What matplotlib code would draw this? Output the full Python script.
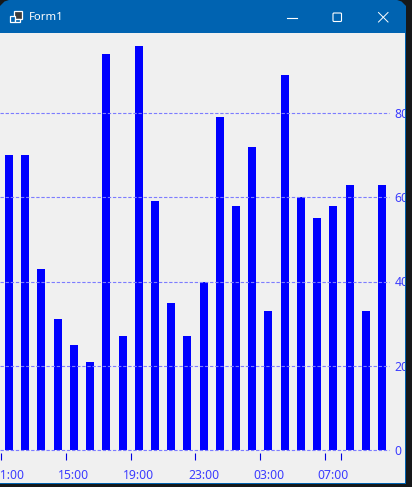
import matplotlib
matplotlib.use("Agg")
import numpy as np
import matplotlib.pyplot as plt
from matplotlib.patches import FancyBboxPatch, Rectangle

W, H = 412, 487

# one bar per hour, starting at 11:00
hours = ['%02d:00' % ((11 + i) % 24) for i in range(24)]
values = [70, 70, 43, 31, 25, 21, 94, 27, 96, 59, 35, 27,
          40, 79, 58, 72, 33, 89, 60, 55, 58, 63, 33, 63]
label_idx = [0, 4, 8, 12, 16, 20]
tick_idx = [0, 4, 8, 12, 16, 20, 21]
yticks = [0, 20, 40, 60, 80]

TITLE_BLUE = '#0063b1'
CLIENT = '#f0f0f0'
DARK = '#16181a'
GRID = '#7c7cff'
LABEL = '#3c3cff'

plt.rcParams['font.family'] = ['Noto Sans', 'DejaVu Sans']

fig = plt.figure(figsize=(W / 100, H / 100), dpi=100, facecolor=DARK)


def pixel_axes(zorder):
    a = fig.add_axes([0, 0, 1, 1], zorder=zorder)
    a.set_xlim(0, W)
    a.set_ylim(H, 0)
    a.axis('off')
    a.patch.set_alpha(0)
    return a


# window behind the chart
back = pixel_axes(0)
back.add_patch(FancyBboxPatch((7, 9), 392, 468, boxstyle='round,pad=0,rounding_size=7',
                              mutation_aspect=1, fc=TITLE_BLUE, ec=TITLE_BLUE, lw=14))
back.add_patch(Rectangle((0, 33), 405.5, 449.5, fc=CLIENT, ec='none'))
back.add_patch(Rectangle((0, 482.5), 405.5, 1, fc=TITLE_BLUE, ec='none'))

# window icon
back.add_patch(Rectangle((14.5, 11), 8, 8, fc='#3c3c3c', ec='white', lw=0.9))
back.add_patch(Rectangle((10, 16), 5.5, 5.5, fc=TITLE_BLUE, ec='white', lw=0.9))
back.add_patch(Rectangle((15.5, 19), 5, 3, fc=TITLE_BLUE, ec='white', lw=0.9))
back.text(29, 17.5, 'Form1', color='white', fontsize=8.2, va='center', ha='left')

# minimise, maximise, close
back.plot([287, 297], [17.5, 17.5], color='white', lw=0.8)
back.add_patch(FancyBboxPatch((333, 13), 8.5, 8.5, boxstyle='round,pad=0,rounding_size=1',
                              fc='none', ec='white', lw=0.8))
back.plot([378.5, 388], [12.5, 22], color='white', lw=0.7)
back.plot([378.5, 388], [22, 12.5], color='white', lw=0.7)

# chart area, placed so that 0 sits at y=450 and 80 at y=113
px_per_unit = (450 - 113) / 80
bar_step = (382 - 9) / 23
top_val = (450 - 33) / px_per_unit

ax = fig.add_axes([0, (H - 450) / H, 389 / W, (450 - 33) / H], zorder=1)
ax.patch.set_alpha(0)
x = np.arange(len(values))
ax.bar(x, values, width=8 / bar_step, color='#0000ff', zorder=2)
ax.set_xlim(-9 / bar_step, (389 - 9) / bar_step)
ax.set_ylim(0, top_val)

for s in ax.spines.values():
    s.set_visible(False)
ax.spines['bottom'].set_position(('outward', 2.5))

ax.set_xticks(x[label_idx])
ax.set_xticklabels([hours[i] for i in label_idx], color=LABEL, fontsize=8.8)
ax.set_xticks(x[tick_idx] - 0.5, minor=True)
ax.tick_params(axis='x', which='major', length=0, pad=11.5)
ax.tick_params(axis='x', which='minor', length=5, width=0.8, color='#0000e0')

ax.yaxis.tick_right()
ax.set_yticks(yticks)
ax.set_yticklabels([str(v) for v in yticks], color=LABEL, fontsize=8.8)
ax.tick_params(axis='y', length=0, pad=4)
ax.grid(axis='y', color=GRID, lw=0.8, linestyle=(0, (3, 1.6)), zorder=3)
ax.set_axisbelow(False)
for line in ax.get_ygridlines():
    line.set_clip_on(False)

# window edge in front, it cuts off the 80/60/40/20 labels
front = pixel_axes(2)
front.add_patch(Rectangle((405.5, 33), 1, 451, fc=TITLE_BLUE, ec='none'))
front.add_patch(Rectangle((406.5, 0), 6, H, fc=DARK, ec='none'))
front.add_patch(Rectangle((0, 484), W, 4, fc=DARK, ec='none'))

fig.savefig('out.png', dpi=100, facecolor=fig.get_facecolor())
